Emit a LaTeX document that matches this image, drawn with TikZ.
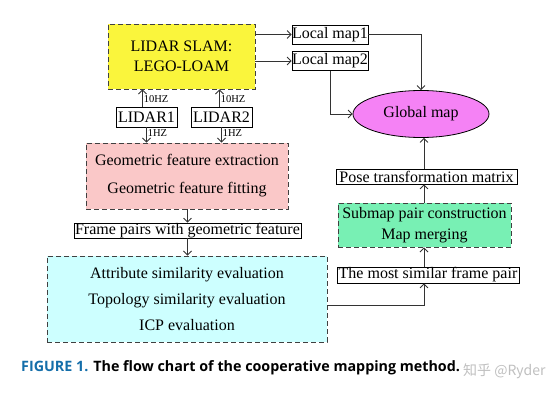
\documentclass[tikz,border=0pt]{standalone}
\usepackage{fontspec}
\setmainfont{Liberation Serif}
\newfontfamily\capfont{Open Sans}
\newfontfamily\cjk{Noto Sans CJK SC}
\usetikzlibrary{arrows.meta,shapes.geometric}

\definecolor{slamyellow}{RGB}{250,245,60}
\definecolor{featpink}{RGB}{250,200,200}
\definecolor{evalcyan}{RGB}{205,255,255}
\definecolor{mergegreen}{RGB}{120,240,180}
\definecolor{globalviolet}{RGB}{245,130,245}
\definecolor{capblue}{RGB}{20,110,170}

\begin{document}
\begin{tikzpicture}[x=1pt, y=-1pt,
  every node/.style = {inner sep=0pt, align=center},
  stagebox/.style = {draw=black!75, line width=0.9pt,
    dash pattern=on 5pt off 3pt, font=\fontsize{16}{20}\selectfont},
  tagbox/.style = {draw, line width=0.8pt,
    font=\fontsize{16}{18}\selectfont},
  hz/.style = {font=\fontsize{10.5}{11}\selectfont, inner sep=1pt},
  arr/.style = {draw=black!80, line width=0.8pt,
    -{Straight Barb[length=4pt, width=8pt]}}]
  \useasboundingbox (0,0) rectangle (550,401);

  % left column
  \node[stagebox, fill=slamyellow, minimum width=147pt, minimum height=65pt]
    (slam) at (181.5,56.5) {LIDAR SLAM:\\LEGO-LOAM};
  \node[tagbox, minimum width=61pt, minimum height=20pt]
    (lidara) at (146.5,117) {LIDAR1};
  \node[tagbox, minimum width=61pt, minimum height=20pt]
    (lidarb) at (221.5,117) {LIDAR2};
  \node[stagebox, fill=featpink, minimum width=202pt, minimum height=66pt,
    font=\fontsize{16}{28}\selectfont]
    (geom) at (187,176) {Geometric feature extraction\\Geometric feature fitting};
  \node[tagbox, minimum width=227pt, minimum height=15pt]
    (frames) at (187.5,230.5) {Frame pairs with geometric feature};
  \node[stagebox, fill=evalcyan, minimum width=280pt, minimum height=86pt,
    font=\fontsize{16}{26}\selectfont]
    (evalbox) at (187,299) {Attribute similarity evaluation\\
      Topology similarity evaluation\\ICP evaluation};

  % right column
  \coordinate (col) at (424,0);
  \node[tagbox, minimum width=76pt, minimum height=19pt]
    (lmapa) at (330,34.5) {Local map1};
  \node[tagbox, minimum width=76pt, minimum height=19pt]
    (lmapb) at (330,61) {Local map2};
  \node[ellipse, draw, line width=0.8pt, fill=globalviolet,
    minimum width=136pt, minimum height=47pt, font=\fontsize{16}{18}\selectfont]
    (gmap) at (421,114) {Global map};
  \node[tagbox, minimum width=181pt, minimum height=15pt]
    (pose) at (426.5,176.5) {Pose transformation matrix};
  \node[stagebox, fill=mergegreen, minimum width=173pt, minimum height=44pt,
    font=\fontsize{16}{21}\selectfont]
    (submap) at (424.5,225) {Submap pair construction\\Map merging};
  \node[tagbox, minimum width=182pt, minimum height=16pt]
    (simpair) at (428,275) {The most similar frame pair};

  % connectors
  \draw[arr] (slam.east |- lmapa) -- (lmapa.west);
  \draw[arr] (slam.east |- lmapb) -- (lmapb.west);
  \draw[arr] (lmapa.east) -| (gmap.north);
  \draw[arr] (lmapb.south) |- (gmap.west);
  \draw[arr] ([xshift=-4pt]lidara.north) -- ([xshift=-4pt]lidara.north |- slam.south)
    node[hz, right, pos=0.45] {10HZ};
  \draw[arr] ([xshift=-2pt]lidarb.north) -- ([xshift=-2pt]lidarb.north |- slam.south)
    node[hz, right, pos=0.45] {10HZ};
  \draw[arr] (lidara.south) -- (lidara.south |- geom.north)
    node[hz, right, pos=0.4] {1HZ};
  \draw[arr] (lidarb.south) -- (lidarb.south |- geom.north)
    node[hz, right, pos=0.4] {1HZ};
  \draw[arr] (geom.south -| frames.north) -- (frames.north);
  \draw[arr] (frames.south) -- (frames.south |- evalbox.north);
  \draw[arr] ([yshift=-6pt]evalbox.east) -| (simpair.south -| col);
  \draw[arr] (simpair.north -| col) -- (submap.south -| col);
  \draw[arr] (submap.north -| col) -- (pose.south -| col);
  \draw[arr] (pose.north -| col) -- (gmap.south -| col);

  % caption
  \node[anchor=west, font=\capfont\bfseries\fontsize{14.3}{16}\selectfont]
    (caption) at (21,368) {\textcolor{capblue}{FIGURE 1.}\hspace{5pt}The flow chart of the cooperative mapping method.};
  \node[anchor=west, text=black!25, font=\cjk\fontsize{14}{16}\selectfont]
    (mark) at (463,371) {知乎 @Ryder};
\end{tikzpicture}
\end{document}
